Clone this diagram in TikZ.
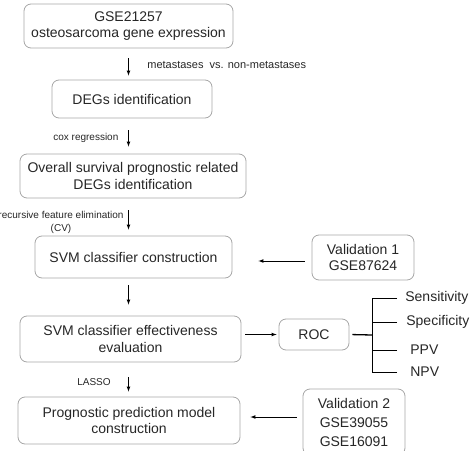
\documentclass[tikz,border=0pt]{standalone}
\usepackage{fontspec}
\setmainfont{Liberation Sans}

\tikzstyle{block} = [ draw=gray!70,line width=0.8pt,rounded corners=7pt,align=center,
                      inner sep=0pt,text=black!85,font=\fontsize{14}{16.5}\selectfont]
\tikzstyle{note}  = [ inner sep=0pt,align=center,text=black!85,font=\fontsize{10}{12.5}\selectfont]
\tikzstyle{leaf}  = [ inner sep=0pt,anchor=west,text=black!85,font=\fontsize{14}{16.5}\selectfont]

\begin{document}
\begin{tikzpicture}[x=1pt,y=-1pt,line width=0.7pt]
  \useasboundingbox (0,0) rectangle (474,450);

  \node[block,minimum width=209pt,minimum height=44pt] at (128.5,26) (gse)   {GSE21257\\osteosarcoma gene expression};
  \node[block,minimum width=160pt,minimum height=38pt] at (132,99) (deg)     {DEGs identification};
  \node[block,minimum width=226pt,minimum height=44pt] at (133,176) (ols)    {Overall survival prognostic related\\DEGs identification};
  \node[block,minimum width=197pt,minimum height=42pt] at (133.5,257) (svm)  {SVM classifier construction};
  \node[block,minimum width=102pt,minimum height=45pt] at (363,257.5) (val1) {Validation 1\\GSE87624};
  \node[block,minimum width=221pt,minimum height=46pt] at (130.5,339) (eval) {SVM classifier effectiveness\\evaluation};
  \node[block,minimum width=70pt,minimum height=31pt] at (314,334.5) (roc)   {ROC};
  \node[block,minimum width=222pt,minimum height=47pt] at (129,420.5) (model) {Prognostic prediction model\\construction};
  \node[block,minimum width=102pt,minimum height=66pt,
        font=\fontsize{14}{19}\selectfont] at (354,422) (val2) {Validation 2\\GSE39055\\GSE16091};

  % labels beside the arrows
  \node[note,anchor=west,font=\fontsize{11}{13}\selectfont] at (147,65) (m) {metastases\ \ vs. non-metastases};
  \node[note,anchor=west] at (53,138) (cox) {cox regression};
  \node[note] at (61,222.5) (rfe) {recursive feature elimination\\(CV)};
  \node[note] at (94,382) (lasso) {LASSO};

  % roc measures
  \node[leaf] at (405,298) (sens) {Sensitivity};
  \node[leaf] at (406,322) (spec) {Specificity};
  \node[leaf] at (410,350) (ppv)  {PPV};
  \node[leaf] at (410,372) (npv)  {NPV};
  \coordinate (fork) at (372,335);

  \draw[-latex,shorten <=10pt,shorten >=4pt] (gse.south) -- (gse.south |- deg.north);
  \draw[-latex,shorten <=12pt,shorten >=7pt] (gse.south |- deg.south) -- (gse.south |- ols.north);
  \draw[-latex,shorten <=12pt,shorten >=6pt] (gse.south |- ols.south) -- (gse.south |- svm.north);
  \draw[-latex,shorten <=7pt,shorten >=11pt] (gse.south |- svm.south) -- (gse.south |- eval.north);
  \draw[-latex,shorten <=15pt,shorten >=5pt] (gse.south |- eval.south) -- (gse.south |- model.north);

  \draw[-latex] ([xshift=-7pt,yshift=-3.5pt]val1.west) -- ([xshift=26pt,yshift=-3.5pt]svm.east |- val1.west);
  \draw[-latex,shorten <=4pt,shorten >=2pt] (eval.east |- roc.west) -- (roc.west);
  \draw[-latex] ([xshift=-6pt,yshift=5pt]val2.west) -- ([xshift=10pt,yshift=5pt]model.east |- val2.west);

  \draw[line width=1.3pt,shorten <=3pt] (roc.east) -- (fork);
  \draw ([xshift=-8pt]sens.west) -| (fork);
  \draw ([xshift=-9pt]spec.west) -| (fork);
  \draw ([xshift=-13pt]ppv.west) -| (fork);
  \draw ([xshift=-13pt]npv.west) -| (fork);
\end{tikzpicture}
\end{document}
